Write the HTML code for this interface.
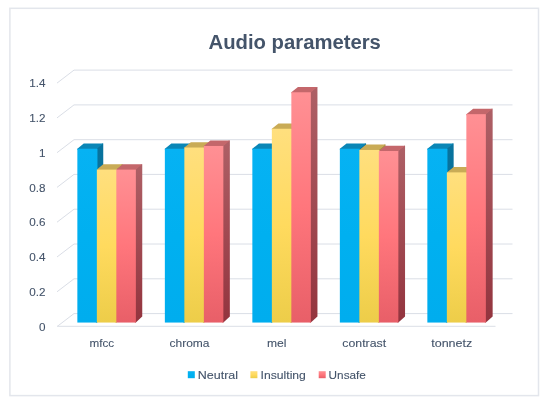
<!DOCTYPE html>
<html><head><meta charset="utf-8"><title>Audio parameters</title>
<style>
html,body{margin:0;padding:0;background:#fff;}
body{width:550px;height:407px;overflow:hidden;font-family:"Liberation Sans",sans-serif;}
svg{display:block}
text{font-family:"Liberation Sans",sans-serif;fill:#44546A}
text.l{stroke:#44546A;stroke-width:0.1px}
</style></head><body>
<svg width="550" height="407" viewBox="0 0 550 407">
<defs>
<linearGradient id="g0" x1="0" y1="0" x2="0" y2="1"><stop offset="0" stop-color="#06B2F3"/><stop offset="0.5" stop-color="#00B0F0"/><stop offset="1" stop-color="#00ADEE"/></linearGradient>
<linearGradient id="s0" x1="0" y1="0" x2="0" y2="1"><stop offset="0" stop-color="#08739E"/><stop offset="1" stop-color="#066A94"/></linearGradient>
<linearGradient id="g1" x1="0" y1="0" x2="0" y2="1"><stop offset="0" stop-color="#FFDF7E"/><stop offset="0.5" stop-color="#FFDA5E"/><stop offset="1" stop-color="#EDCD49"/></linearGradient>
<linearGradient id="s1" x1="0" y1="0" x2="0" y2="1"><stop offset="0" stop-color="#A88E45"/><stop offset="1" stop-color="#9A8238"/></linearGradient>
<linearGradient id="g2" x1="0" y1="0" x2="0" y2="1"><stop offset="0" stop-color="#FF9094"/><stop offset="0.5" stop-color="#FF767C"/><stop offset="1" stop-color="#E85F68"/></linearGradient>
<linearGradient id="s2" x1="0" y1="0" x2="0" y2="1"><stop offset="0" stop-color="#AE6066"/><stop offset="1" stop-color="#93343E"/></linearGradient>
</defs>
<rect x="0" y="0" width="550" height="407" fill="#fff"/>
<rect x="9.9" y="8.3" width="528.6" height="387.3" fill="#fff" stroke="#E3E6EC" stroke-width="1.5"/>
<polyline points="57,326.6 74,313.6 512.5,313.6" fill="none" stroke="#DADEE6" stroke-width="1"/>
<polyline points="57,291.8 74,278.8 512.5,278.8" fill="none" stroke="#DADEE6" stroke-width="1"/>
<polyline points="57,257.0 74,244.0 512.5,244.0" fill="none" stroke="#DADEE6" stroke-width="1"/>
<polyline points="57,222.2 74,209.2 512.5,209.2" fill="none" stroke="#DADEE6" stroke-width="1"/>
<polyline points="57,187.4 74,174.4 512.5,174.4" fill="none" stroke="#DADEE6" stroke-width="1"/>
<polyline points="57,152.7 74,139.7 512.5,139.7" fill="none" stroke="#DADEE6" stroke-width="1"/>
<polyline points="57,117.9 74,104.9 512.5,104.9" fill="none" stroke="#DADEE6" stroke-width="1"/>
<polyline points="57,83.1 74,70.1 512.5,70.1" fill="none" stroke="#DADEE6" stroke-width="1"/>
<line x1="57" y1="326.4" x2="495.5" y2="326.4" stroke="#E2E5EB" stroke-width="1.2"/>
<polygon points="95.85,148.75 102.25,143.40 103.25,143.40 103.25,316.55 96.85,322.55 95.85,322.55" fill="url(#s0)"/>
<polygon points="77.35,149.75 77.35,148.75 83.75,143.40 103.25,143.40 96.85,148.75 96.85,149.75" fill="#0A86B6"/>
<polygon points="115.35,169.61 121.75,164.26 122.75,164.26 122.75,316.55 116.35,322.55 115.35,322.55" fill="url(#s1)"/>
<polygon points="96.85,170.61 96.85,169.61 103.25,164.26 122.75,164.26 116.35,169.61 116.35,170.61" fill="#C9AB56"/>
<polygon points="134.85,169.61 141.25,164.26 142.25,164.26 142.25,316.55 135.85,322.55 134.85,322.55" fill="url(#s2)"/>
<polygon points="116.35,170.61 116.35,169.61 122.75,164.26 142.25,164.26 135.85,169.61 135.85,170.61" fill="#C4676B"/>
<rect x="77.35" y="148.75" width="20.10" height="173.80" fill="url(#g0)"/>
<rect x="96.85" y="169.61" width="20.10" height="152.94" fill="url(#g1)"/>
<rect x="116.35" y="169.61" width="19.50" height="152.94" fill="url(#g2)"/>
<polygon points="183.35,148.75 189.85,143.40 190.85,143.40 190.85,316.55 184.35,322.55 183.35,322.55" fill="url(#s0)"/>
<polygon points="164.85,149.75 164.85,148.75 171.35,143.40 190.85,143.40 184.35,148.75 184.35,149.75" fill="#0A86B6"/>
<polygon points="202.85,147.53 209.35,142.18 210.35,142.18 210.35,316.55 203.85,322.55 202.85,322.55" fill="url(#s1)"/>
<polygon points="184.35,148.53 184.35,147.53 190.85,142.18 210.35,142.18 203.85,147.53 203.85,148.53" fill="#C9AB56"/>
<polygon points="222.35,145.97 228.85,140.62 229.85,140.62 229.85,316.55 223.35,322.55 222.35,322.55" fill="url(#s2)"/>
<polygon points="203.85,146.97 203.85,145.97 210.35,140.62 229.85,140.62 223.35,145.97 223.35,146.97" fill="#C4676B"/>
<rect x="164.85" y="148.75" width="20.10" height="173.80" fill="url(#g0)"/>
<rect x="184.35" y="147.53" width="20.10" height="175.02" fill="url(#g1)"/>
<rect x="203.85" y="145.97" width="19.50" height="176.58" fill="url(#g2)"/>
<polygon points="270.85,148.75 277.45,143.40 278.45,143.40 278.45,316.55 271.85,322.55 270.85,322.55" fill="url(#s0)"/>
<polygon points="252.35,149.75 252.35,148.75 258.95,143.40 278.45,143.40 271.85,148.75 271.85,149.75" fill="#0A86B6"/>
<polygon points="290.35,128.76 296.95,123.41 297.95,123.41 297.95,316.55 291.35,322.55 290.35,322.55" fill="url(#s1)"/>
<polygon points="271.85,129.76 271.85,128.76 278.45,123.41 297.95,123.41 291.35,128.76 291.35,129.76" fill="#C9AB56"/>
<polygon points="309.85,92.27 316.45,86.92 317.45,86.92 317.45,316.55 310.85,322.55 309.85,322.55" fill="url(#s2)"/>
<polygon points="291.35,93.27 291.35,92.27 297.95,86.92 317.45,86.92 310.85,92.27 310.85,93.27" fill="#C4676B"/>
<rect x="252.35" y="148.75" width="20.10" height="173.80" fill="url(#g0)"/>
<rect x="271.85" y="128.76" width="20.10" height="193.79" fill="url(#g1)"/>
<rect x="291.35" y="92.27" width="19.50" height="230.28" fill="url(#g2)"/>
<polygon points="358.35,148.75 365.05,143.40 366.05,143.40 366.05,316.55 359.35,322.55 358.35,322.55" fill="url(#s0)"/>
<polygon points="339.85,149.75 339.85,148.75 346.55,143.40 366.05,143.40 359.35,148.75 359.35,149.75" fill="#0A86B6"/>
<polygon points="377.85,149.97 384.55,144.62 385.55,144.62 385.55,316.55 378.85,322.55 377.85,322.55" fill="url(#s1)"/>
<polygon points="359.35,150.97 359.35,149.97 366.05,144.62 385.55,144.62 378.85,149.97 378.85,150.97" fill="#C9AB56"/>
<polygon points="397.35,151.01 404.05,145.66 405.05,145.66 405.05,316.55 398.35,322.55 397.35,322.55" fill="url(#s2)"/>
<polygon points="378.85,152.01 378.85,151.01 385.55,145.66 405.05,145.66 398.35,151.01 398.35,152.01" fill="#C4676B"/>
<rect x="339.85" y="148.75" width="20.10" height="173.80" fill="url(#g0)"/>
<rect x="359.35" y="149.97" width="20.10" height="172.58" fill="url(#g1)"/>
<rect x="378.85" y="151.01" width="19.50" height="171.54" fill="url(#g2)"/>
<polygon points="445.85,148.75 452.65,143.40 453.65,143.40 453.65,316.55 446.85,322.55 445.85,322.55" fill="url(#s0)"/>
<polygon points="427.35,149.75 427.35,148.75 434.15,143.40 453.65,143.40 446.85,148.75 446.85,149.75" fill="#0A86B6"/>
<polygon points="465.35,172.39 472.15,167.04 473.15,167.04 473.15,316.55 466.35,322.55 465.35,322.55" fill="url(#s1)"/>
<polygon points="446.85,173.39 446.85,172.39 453.65,167.04 473.15,167.04 466.35,172.39 466.35,173.39" fill="#C9AB56"/>
<polygon points="484.85,114.16 491.65,108.81 492.65,108.81 492.65,316.55 485.85,322.55 484.85,322.55" fill="url(#s2)"/>
<polygon points="466.35,115.16 466.35,114.16 473.15,108.81 492.65,108.81 485.85,114.16 485.85,115.16" fill="#C4676B"/>
<rect x="427.35" y="148.75" width="20.10" height="173.80" fill="url(#g0)"/>
<rect x="446.85" y="172.39" width="20.10" height="150.16" fill="url(#g1)"/>
<rect x="466.35" y="114.16" width="19.50" height="208.39" fill="url(#g2)"/>
<text x="208.6" y="49.2" font-size="21.1" font-weight="bold" textLength="172.3" lengthAdjust="spacingAndGlyphs">Audio parameters</text>
<text x="45.6" y="330.7" font-size="11.7" text-anchor="end" class="l">0</text>
<text x="45.6" y="295.9" font-size="11.7" text-anchor="end" class="l">0.2</text>
<text x="45.6" y="261.1" font-size="11.7" text-anchor="end" class="l">0.4</text>
<text x="45.6" y="226.4" font-size="11.7" text-anchor="end" class="l">0.6</text>
<text x="45.6" y="191.6" font-size="11.7" text-anchor="end" class="l">0.8</text>
<text x="45.6" y="156.8" font-size="11.7" text-anchor="end" class="l">1</text>
<text x="45.6" y="122.0" font-size="11.7" text-anchor="end" class="l">1.2</text>
<text x="45.6" y="87.2" font-size="11.7" text-anchor="end" class="l">1.4</text>
<text x="89.6" y="347.3" font-size="11.7" class="l" textLength="24.6" lengthAdjust="spacingAndGlyphs">mfcc</text>
<text x="169.5" y="347.3" font-size="11.7" class="l" textLength="40" lengthAdjust="spacingAndGlyphs">chroma</text>
<text x="266.9" y="347.3" font-size="11.7" class="l" textLength="19.5" lengthAdjust="spacingAndGlyphs">mel</text>
<text x="342.3" y="347.3" font-size="11.7" class="l" textLength="43.8" lengthAdjust="spacingAndGlyphs">contrast</text>
<text x="431.2" y="347.3" font-size="11.7" class="l" textLength="41.1" lengthAdjust="spacingAndGlyphs">tonnetz</text>
<rect x="187.8" y="371.2" width="7" height="7" fill="url(#g0)"/>
<text x="197.8" y="378.8" font-size="11.7" class="l" textLength="40.3" lengthAdjust="spacingAndGlyphs">Neutral</text>
<rect x="250.4" y="371.2" width="7" height="7" fill="url(#g1)"/>
<text x="260.6" y="378.8" font-size="11.7" class="l" textLength="45.3" lengthAdjust="spacingAndGlyphs">Insulting</text>
<rect x="318.7" y="371.2" width="7" height="7" fill="url(#g2)"/>
<text x="328.6" y="378.8" font-size="11.7" class="l" textLength="37.3" lengthAdjust="spacingAndGlyphs">Unsafe</text>
</svg>
</body></html>
